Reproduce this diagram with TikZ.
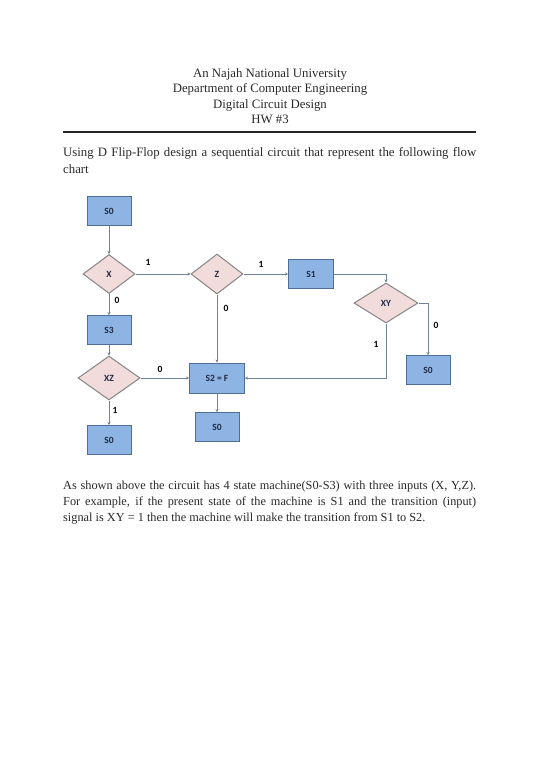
\documentclass[tikz,border=0pt]{standalone}
\usepackage{fontspec}
\setmainfont{Liberation Serif}
\newfontfamily\diag{Carlito}
\usetikzlibrary{shapes.geometric,arrows.meta}
\definecolor{boxfill}{HTML}{8EB4E3}
\definecolor{boxline}{HTML}{4F6E96}
\definecolor{diafill}{HTML}{F2DCDB}
\definecolor{dialine}{HTML}{858585}
\definecolor{conn}{HTML}{6F8298}
\definecolor{ink}{HTML}{1F2A44}
\definecolor{txt}{HTML}{2A2A2A}
\begin{document}
\begin{tikzpicture}[x=1pt,y=-1pt,
  stbox/.style={rectangle,draw=boxline,fill=boxfill,line width=0.9pt,minimum width=44pt,minimum height=29pt,inner sep=1pt,font=\diag\bfseries\fontsize{9.5}{10}\selectfont,text=ink},
  dec/.style={diamond,draw=dialine,fill=diafill,line width=1pt,minimum width=52pt,minimum height=39pt,inner sep=0pt,font=\diag\bfseries\fontsize{9.5}{10}\selectfont,text=ink},
  lbl/.style={font=\diag\bfseries\fontsize{9.5}{10}\selectfont,text=black,inner sep=0pt},
  conn/.style={draw=conn,line width=0.9pt,-{Stealth[length=3pt,width=3pt]}},
  para/.style={anchor=north west,text width=413pt,align=justify,inner sep=0pt,text=txt}]
\useasboundingbox[fill=white] (0,0) rectangle (540,758);
% header
\node[align=center,inner sep=0pt,text=txt,font=\fontsize{12.8}{15.5}\selectfont] (title) at (270,96)
  {An Najah National University\\Department of Computer Engineering\\Digital Circuit Design\\HW \#3};
\coordinate (rl) at (63,132);
\coordinate (rr) at (476,132);
\draw[line width=1.3pt,black!85] (rl) -- (rr);
\node[para,font=\fontsize{12.8}{17}\selectfont] (intro) at (63,147)
  {Using D Flip-Flop design a sequential circuit that represent the following flow\linebreak chart};
% diagram
\node[stbox] (s0a) at (109,211) {S0};
\node[dec] (x) at (109,274) {X};
\node[dec,minimum height=40pt] (z) at (217,274) {Z};
\node[stbox,minimum width=45pt] (s1) at (311,274) {S1};
\node[dec,minimum width=64pt,minimum height=40pt] (xy) at (386,303) {XY};
\node[stbox] (s0r) at (428,370) {S0};
\node[stbox] (s3) at (109,330) {S3};
\node[dec,minimum width=62pt,minimum height=44pt] (xz) at (109,378) {XZ};
\node[stbox,minimum width=55pt,minimum height=30pt] (s2) at (217,378) {S2 = F};
\node[stbox] (s0b) at (109,440) {S0};
\node[stbox] (s0c) at (217,427) {S0};
\draw[conn] (s0a) -- (x);
\draw[conn] (x) -- (z);
\draw[conn] (x) -- (s3);
\draw[conn] (z) -- (s1);
\draw[conn] (z) -- (s2);
\draw[conn] (s1.east) -| (xy.north);
\draw[conn] (xy.east) -| (s0r.north);
\draw[conn] (xy.south) |- (s2.east);
\draw[conn] (s3) -- (xz);
\draw[conn] (xz) -- (s2);
\draw[conn] (xz) -- (s0b);
\draw[conn] (s2) -- (s0c);
\node[lbl] (l1) at (148,262) {1};
\node[lbl] (l2) at (117,300) {0};
\node[lbl] (l3) at (261,264) {1};
\node[lbl] (l4) at (226,308) {0};
\node[lbl] (l5) at (436,325) {0};
\node[lbl] (l6) at (376,344) {1};
\node[lbl] (l7) at (160,369) {0};
\node[lbl] (l8) at (115,410) {1};
% closing paragraph
\node[para,font=\fontsize{12.3}{16}\selectfont] (outro) at (63,481)
  {As shown above the circuit has 4 state machine(S0-S3) with three inputs (X, Y,Z).\linebreak For example, if the present state of the machine is S1 and the transition (input)\linebreak signal is XY = 1 then the machine will make the transition from S1 to S2.};
\end{tikzpicture}
\end{document}
